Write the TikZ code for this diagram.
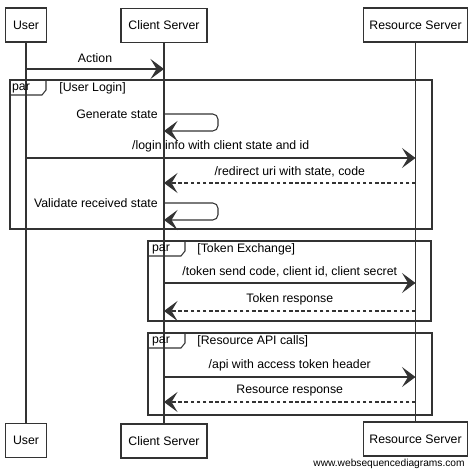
\documentclass[tikz,border=0pt]{standalone}
\usepackage{fontspec}
\setmainfont{Liberation Sans}
\usetikzlibrary{arrows.meta}
\begin{document}
\begin{tikzpicture}[x=0.02cm, y=-0.02cm, line width=0.6pt, draw=black!80, text=black,
    font=\fontsize{7}{8}\selectfont,
    party/.style={draw, fill=white, inner sep=0pt, minimum height=0.68cm},
    msg/.style={-{Stealth[length=2.7mm, width=4mm, inset=1.2mm, fill=black!80]}},
    reply/.style={msg, dash pattern=on 2pt off 1.5pt}]
    \useasboundingbox (0,0) rectangle (474,475);

    \node[party, minimum width=0.82cm] (usrT) at (26,25) {User};
    \node[party, minimum width=1.72cm] (cliT) at (164,25.5) {Client Server};
    \node[party, minimum width=2.08cm] (resT) at (415.5,25) {Resource Server};
    \node[party, minimum width=0.82cm] (usrB) at (26,440.5) {User};
    \node[party, minimum width=1.72cm] (cliB) at (164,441) {Client Server};
    \node[party, minimum width=2.08cm] (resB) at (415.5,439) {Resource Server};

    \draw (usrT) -- (usrB);
    \draw (cliT) -- (cliB);
    \draw (resT) -- (resB);

    \path (0,69) coordinate (yAct) (0,114) coordinate (yGen)
        (0,131) coordinate (yGenB) (0,158) coordinate (yLogin)
        (0,183) coordinate (yRedir) (0,203) coordinate (yVal)
        (0,220) coordinate (yValB) (0,283) coordinate (yTok)
        (0,311) coordinate (yTokR) (0,377) coordinate (yApi)
        (0,402) coordinate (yApiR);

    \draw (10,80) rectangle (432,229);
    \draw (10,80) -- (46,80) -- (46,90) -- (42,95) -- (10,95);
    \node at (21,88) {par};
    \node[right] at (53,88) {[User Login]};

    \draw (148,241) rectangle (431,321);
    \draw (148,241) -- (185,241) -- (185,251) -- (181,256) -- (148,256);
    \node at (161,249) {par};
    \node[right] at (191,249) {[Token Exchange]};

    \draw (148,333) rectangle (432,415);
    \draw (148,333) -- (185,333) -- (185,343) -- (181,348) -- (148,348);
    \node at (161,341) {par};
    \node[right] at (191,341) {[Resource API calls]};

    \draw[msg] (usrT |- yAct) -- node[above] {Action} (cliT |- yAct);
    \draw[msg, rounded corners=3pt] (cliT |- yGen) node[left] {Generate state}
        -- ++(54,0) -- ++(0,17) -- (cliT |- yGenB);
    \draw[msg] (usrT |- yLogin) -- node[above] {/login info with client state and id} (resT |- yLogin);
    \draw[reply] (resT |- yRedir) -- node[above] {/redirect uri with state, code} (cliT |- yRedir);
    \draw[msg, rounded corners=3pt] (cliT |- yVal) node[left] {Validate received state}
        -- ++(54,0) -- ++(0,17) -- (cliT |- yValB);
    \draw[msg] (cliT |- yTok) -- node[above] {/token send code, client id, client secret} (resT |- yTok);
    \draw[reply] (resT |- yTokR) -- node[above] {Token response} (cliT |- yTokR);
    \draw[msg] (cliT |- yApi) -- node[above] {/api with access token header} (resT |- yApi);
    \draw[reply] (resT |- yApiR) -- node[above] {Resource response} (cliT |- yApiR);

    \node[anchor=east, font=\fontsize{5.8}{7}\selectfont] at (471,464) {www.websequencediagrams.com};
\end{tikzpicture}
\end{document}
